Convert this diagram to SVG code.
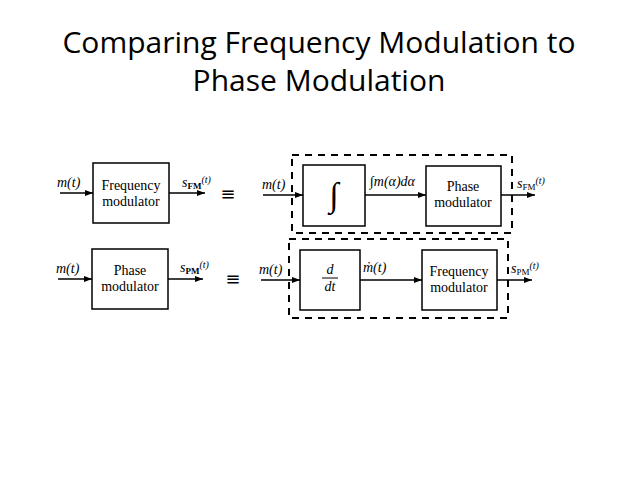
<svg xmlns="http://www.w3.org/2000/svg" width="638" height="478" viewBox="0 0 638 478">
<defs><marker id="a" markerWidth="8" markerHeight="6" refX="8" refY="3" orient="auto" markerUnits="userSpaceOnUse"><path d="M0,0L8,3L0,6z" fill="#000"/></marker></defs>
<style>
.b{fill:#fff;stroke:#000;stroke-width:1.5}
.d{fill:none;stroke:#000;stroke-width:2;stroke-dasharray:7,6}
.c{stroke:#000;stroke-width:1.5;fill:none;marker-end:url(#a)}
.t{font-family:"Liberation Serif",serif;font-size:14px;text-anchor:middle}
.i{font-family:"Liberation Serif",serif;font-size:14px;font-style:italic}
.ti{font-family:"Open Sans","Liberation Sans",sans-serif;font-size:30px;text-anchor:middle}
</style>
<rect width="638" height="478" fill="#fff"/>
<text class="ti" x="319" y="53">Comparing Frequency Modulation to</text>
<text class="ti" x="319" y="91">Phase Modulation</text>
<rect class="d" x="292" y="155" width="220" height="78"/>
<rect class="d" x="289" y="239" width="219" height="79"/>
<g id="fm1"><rect class="b" x="93" y="163" width="76" height="60"/><text class="t" x="131" y="190">Frequency</text><text class="t" x="131" y="206">modulator</text></g>
<g id="pm1"><rect class="b" x="92" y="249" width="76" height="60"/><text class="t" x="130" y="275">Phase</text><text class="t" x="130" y="291">modulator</text></g>
<g id="int"><rect class="b" x="303" y="165" width="62" height="61"/><text x="334" y="206" font-family="Liberation Serif,serif" font-size="34" font-style="italic" text-anchor="middle">∫</text></g>
<g id="pm2"><rect class="b" x="426" y="166" width="75" height="60"/><text class="t" x="463" y="191">Phase</text><text class="t" x="463" y="207">modulator</text></g>
<g id="ddt"><rect class="b" x="300" y="250" width="60" height="60"/><text class="i" x="330" y="274" text-anchor="middle">d</text><line x1="322" y1="278" x2="338" y2="278" stroke="#000"/><text class="i" x="330" y="291" text-anchor="middle">dt</text></g>
<g id="fm2"><rect class="b" x="422" y="250" width="75" height="60"/><text class="t" x="459" y="276">Frequency</text><text class="t" x="459" y="292">modulator</text></g>
<g id="connectors">
<line class="c" x1="60" y1="193" x2="93" y2="193"/>
<line class="c" x1="169" y1="193" x2="205" y2="193"/>
<line class="c" x1="58" y1="279" x2="92" y2="279"/>
<line class="c" x1="168" y1="279" x2="203" y2="279"/>
<line class="c" x1="263" y1="195" x2="303" y2="195"/>
<line class="c" x1="365" y1="195" x2="426" y2="195"/>
<line class="c" x1="501" y1="195" x2="535" y2="195"/>
<line class="c" x1="261" y1="280" x2="300" y2="280"/>
<line class="c" x1="360" y1="280" x2="422" y2="280"/>
<line class="c" x1="497" y1="280" x2="532" y2="280"/>
</g>
<g class="i">
<text x="57" y="187">m(t)</text>
<text x="56" y="273">m(t)</text>
<text x="262" y="189">m(t)</text>
<text x="259" y="274">m(t)</text>
<text x="182" y="187">s<tspan font-size="9" font-style="normal" font-weight="bold" dy="2">FM</tspan><tspan font-size="10" dy="-6">(t)</tspan></text>
<text x="180" y="272">s<tspan font-size="9" font-style="normal" font-weight="bold" dy="2">PM</tspan><tspan font-size="10" dy="-6">(t)</tspan></text>
<text x="517" y="188">s<tspan font-size="9" font-style="normal" dy="2">FM</tspan><tspan font-size="10" dy="-6">(t)</tspan></text>
<text x="511" y="273">s<tspan font-size="9" font-style="normal" dy="2">PM</tspan><tspan font-size="10" dy="-6">(t)</tspan></text>
<text x="370" y="186">∫m(α)dα</text>
<text x="363" y="272">ṁ(t)</text>
</g>
<text x="228" y="200" font-family="DejaVu Sans,sans-serif" font-size="18" text-anchor="middle">≡</text>
<text x="233" y="285" font-family="DejaVu Sans,sans-serif" font-size="18" text-anchor="middle">≡</text>
</svg>
